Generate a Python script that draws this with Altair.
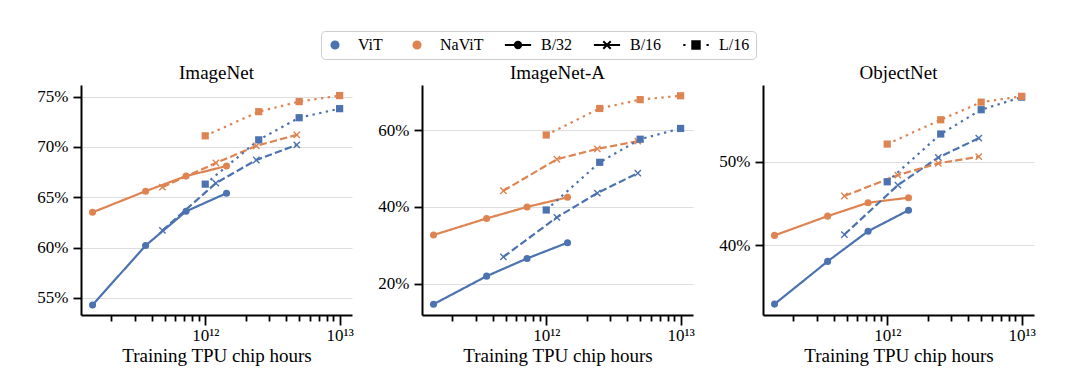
import altair as alt
import pandas as pd

FONT = "Liberation Serif"
BLUE = "#4C72B0"
ORANGE = "#DD8452"

datasets = ["ImageNet", "ImageNet-A", "ObjectNet"]
models = ["ViT", "NaViT"]
sizes = ["B/32", "B/16", "L/16"]

# Training TPU chip hours for each model size
x_b32 = [1.45e11, 3.6e11, 7.2e11, 1.44e12]
x_b16 = [4.8e11, 1.2e12, 2.4e12, 4.8e12]
x_l16 = [1.0e12, 2.5e12, 5.0e12, 1.0e13]

# accuracy (%)
imagenet_vit_b32 = [54.3, 60.2, 63.6, 65.4]
imagenet_navit_b32 = [63.5, 65.6, 67.1, 68.1]
imagenet_vit_b16 = [61.7, 66.4, 68.7, 70.2]
imagenet_navit_b16 = [66.0, 68.4, 70.1, 71.2]
imagenet_vit_l16 = [66.3, 70.7, 72.9, 73.8]
imagenet_navit_l16 = [71.1, 73.5, 74.5, 75.1]

imageneta_vit_b32 = [14.7, 22.0, 26.6, 30.7]
imageneta_navit_b32 = [32.7, 37.0, 40.0, 42.5]
imageneta_vit_b16 = [27.0, 37.3, 43.6, 48.8]
imageneta_navit_b16 = [44.2, 52.4, 55.1, 57.1]
imageneta_vit_l16 = [39.2, 51.6, 57.6, 60.4]
imageneta_navit_l16 = [58.7, 65.6, 67.9, 68.9]

objectnet_vit_b32 = [33.0, 38.1, 41.7, 44.2]
objectnet_navit_b32 = [41.2, 43.5, 45.1, 45.7]
objectnet_vit_b16 = [41.3, 47.2, 50.5, 52.8]
objectnet_navit_b16 = [45.9, 48.4, 49.8, 50.6]
objectnet_vit_l16 = [47.6, 53.3, 56.2, 57.7]
objectnet_navit_l16 = [52.1, 55.0, 57.1, 57.8]

y_domains = {
    "ImageNet": [53.3, 76.15],
    "ImageNet-A": [11.9, 71.7],
    "ObjectNet": [31.7, 59.15],
}
y_ticks = {
    "ImageNet": [55, 60, 65, 70, 75],
    "ImageNet-A": [20, 40, 60],
    "ObjectNet": [40, 50],
}
x_domain = [1.19e11, 1.236e13]
x_tick_values = [2e11, 3e11, 4e11, 5e11, 6e11, 7e11, 8e11, 9e11, 1e12,
                 2e12, 3e12, 4e12, 5e12, 6e12, 7e12, 8e12, 9e12, 1e13]

series = {
    ("ImageNet", "ViT", "B/32"): imagenet_vit_b32,
    ("ImageNet", "NaViT", "B/32"): imagenet_navit_b32,
    ("ImageNet", "ViT", "B/16"): imagenet_vit_b16,
    ("ImageNet", "NaViT", "B/16"): imagenet_navit_b16,
    ("ImageNet", "ViT", "L/16"): imagenet_vit_l16,
    ("ImageNet", "NaViT", "L/16"): imagenet_navit_l16,
    ("ImageNet-A", "ViT", "B/32"): imageneta_vit_b32,
    ("ImageNet-A", "NaViT", "B/32"): imageneta_navit_b32,
    ("ImageNet-A", "ViT", "B/16"): imageneta_vit_b16,
    ("ImageNet-A", "NaViT", "B/16"): imageneta_navit_b16,
    ("ImageNet-A", "ViT", "L/16"): imageneta_vit_l16,
    ("ImageNet-A", "NaViT", "L/16"): imageneta_navit_l16,
    ("ObjectNet", "ViT", "B/32"): objectnet_vit_b32,
    ("ObjectNet", "NaViT", "B/32"): objectnet_navit_b32,
    ("ObjectNet", "ViT", "B/16"): objectnet_vit_b16,
    ("ObjectNet", "NaViT", "B/16"): objectnet_navit_b16,
    ("ObjectNet", "ViT", "L/16"): objectnet_vit_l16,
    ("ObjectNet", "NaViT", "L/16"): objectnet_navit_l16,
}
x_by_size = {"B/32": x_b32, "B/16": x_b16, "L/16": x_l16}

rows = []
for (ds, model, size), ys in series.items():
    for xv, yv in zip(x_by_size[size], ys):
        rows.append({"dataset": ds, "model": model, "size": size, "hours": xv, "acc": yv})
df = pd.DataFrame(rows)

# legend entries
legend_keys = ["ViT", "NaViT", "B/32", "B/16", "L/16"]
legend_df = pd.DataFrame({"key": legend_keys})

X_PATH = "M-1,-1L1,1M-1,1L1,-1"
CIRCLE = "M0.95,0A0.95 0.95 0 1 1 -0.95,0A0.95 0.95 0 1 1 0.95,0Z"
LEG_DOT = "M-3.5,0M3.5,0" + CIRCLE
LEG_B32 = "M-3.5,0H3.5M0.85,0A0.85 0.85 0 1 1 -0.85,0A0.85 0.85 0 1 1 0.85,0Z"
LEG_B16 = "M-3.5,0H3.5M-1,-1L1,1M-1,1L1,-1"
LEG_L16 = "M-3.5,0M3.5,0M-3.4,0H-2.8M2.8,0H3.4M-1,-1H1V1H-1Z"

color_scale = alt.Scale(domain=models, range=[BLUE, ORANGE])
dash_scale = alt.Scale(domain=sizes, range=[[1, 0], [7.4, 3.2], [2.4, 4.4]])

legend = alt.Legend(
    title=None, orient="none", legendX=240, legendY=-54,
    direction="horizontal", columns=5,
    symbolSize=56, symbolStrokeWidth=2, symbolOpacity=1,
    labelFont=FONT, labelFontSize=16, labelColor="black",
    labelOffset=15, columnPadding=16, padding=6,
    strokeColor="#cccccc", fillColor="white", cornerRadius=4,
)


def panel(name):
    base = alt.Chart(df).transform_filter(alt.datum.dataset == name)
    x = alt.X(
        "hours:Q",
        scale=alt.Scale(type="log", domain=x_domain, nice=False),
        axis=alt.Axis(
            title="Training TPU chip hours",
            values=x_tick_values,
            labelExpr="datum.value == 1e12 ? '10\u00b9\u00b2' : (datum.value == 1e13 ? '10\u00b9\u00b3' : '')",
            labelOverlap=False, labelFlush=False,
            grid=False,
            tickSize={"condition": {"test": "datum.value == 1e12 || datum.value == 1e13", "value": 10}, "value": 6},
            labelPadding=2, titlePadding=3,
        ),
    )
    y = alt.Y(
        "acc:Q",
        scale=alt.Scale(domain=y_domains[name], nice=False, zero=False),
        axis=alt.Axis(
            title=None, values=y_ticks[name], labelExpr="datum.value + '%'",
            grid=True, gridColor="#dddddd", gridWidth=1.2,
            tickSize=8, labelPadding=5, minExtent=46, maxExtent=46,
        ),
    )
    color = alt.Color("model:N", scale=color_scale, legend=None)

    lines = base.mark_line(strokeWidth=2.2).encode(
        x=x, y=y, color=color,
        strokeDash=alt.StrokeDash("size:N", scale=dash_scale, legend=None),
    )
    p_b32 = base.transform_filter(alt.datum.size == "B/32").mark_point(
        shape="circle", filled=True, size=50, opacity=1
    ).encode(x=x, y=y, color=color)
    p_b16 = base.transform_filter(alt.datum.size == "B/16").mark_point(
        shape=X_PATH, filled=False, size=40, strokeWidth=1.4, opacity=1
    ).encode(x=x, y=y, color=color)
    p_l16 = base.transform_filter(alt.datum.size == "L/16").mark_point(
        shape="square", filled=True, size=52, opacity=1
    ).encode(x=x, y=y, color=color)

    leg_colors = [BLUE, ORANGE, "black", "black", "black"]
    leg = alt.Chart(legend_df).mark_point(filled=True, opacity=0, size=56, strokeWidth=2).encode(
        fill=alt.Fill("key:N", scale=alt.Scale(domain=legend_keys, range=leg_colors), legend=legend),
        stroke=alt.Stroke("key:N", scale=alt.Scale(domain=legend_keys, range=leg_colors), legend=legend),
        shape=alt.Shape("key:N", scale=alt.Scale(domain=legend_keys, range=[LEG_DOT, LEG_DOT, LEG_B32, LEG_B16, LEG_L16]), legend=legend),
    )

    return alt.layer(lines, p_b32, p_b16, p_l16, leg).properties(
        width=271, height=230,
        title=alt.TitleParams(name, font=FONT, fontSize=19, fontWeight="normal", color="black", offset=2),
    )


chart = (
    alt.hconcat(*[panel(d) for d in datasets], spacing=22)
    .resolve_scale(fill="shared", stroke="shared", shape="shared")
    .properties(padding={"left": 27, "top": 22, "right": 5, "bottom": 5})
    .configure_view(stroke=None)
    .configure_axis(
        labelFont=FONT, labelFontSize=17, labelColor="black",
        titleFont=FONT, titleFontSize=19, titleFontWeight="normal", titleColor="black",
        domainColor="black", domainWidth=2, tickColor="black", tickWidth=1.8,
    )
)

chart.save("out.html", embed_options={"renderer": "svg", "actions": False})
